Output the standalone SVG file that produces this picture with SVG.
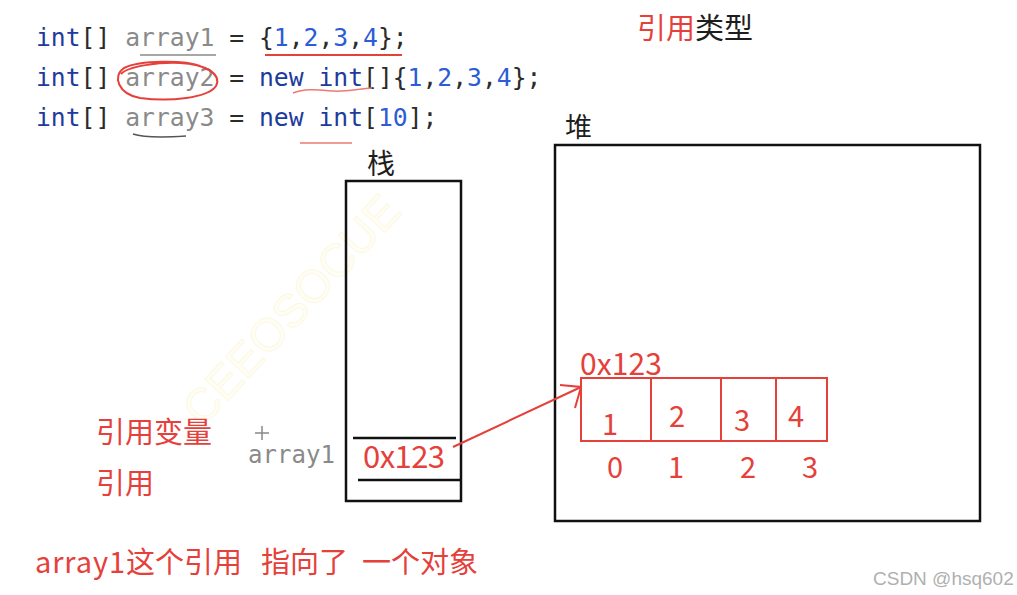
<svg xmlns="http://www.w3.org/2000/svg" width="1017" height="595" viewBox="0 0 1017 595">
<style>
text{white-space:pre}
.code{font-family:"DejaVu Sans Mono","Liberation Mono",monospace;font-size:24.7px}
.kw{fill:#1d3b9c}
.v{fill:#8a8a8a}
.p{fill:#2b2b2b}
.n{fill:#2c5cd6}
.cn{font-family:"Noto Sans CJK SC",sans-serif}
.red{fill:#e5403a}
.blk{fill:#1e1e1e}
.box{fill:none;stroke:#111;stroke-width:2.5}
.rbox{fill:none;stroke:#e5403a;stroke-width:2}
.rl{stroke:#e5403a;fill:none;stroke-width:2}
</style>
<rect width="1017" height="595" fill="#ffffff"/>
<!-- watermark -->
<text x="292" y="325" transform="rotate(-47 292 310)" text-anchor="middle" font-family="Liberation Sans,sans-serif" font-size="46" fill="#fffef6" stroke="#fcf8dc" stroke-width="0.8">CEEOSOCUE</text>

<g id="code">
<text class="code" x="36" y="46"><tspan class="kw">int</tspan><tspan class="p">[] </tspan><tspan class="v">array1</tspan><tspan class="p"> = {</tspan><tspan class="n">1</tspan><tspan class="p">,</tspan><tspan class="n">2</tspan><tspan class="p">,</tspan><tspan class="n">3</tspan><tspan class="p">,</tspan><tspan class="n">4</tspan><tspan class="p">};</tspan></text>
<text class="code" x="36" y="86"><tspan class="kw">int</tspan><tspan class="p">[] </tspan><tspan class="v">array2</tspan><tspan class="p"> = </tspan><tspan class="kw">new int</tspan><tspan class="p">[]{</tspan><tspan class="n">1</tspan><tspan class="p">,</tspan><tspan class="n">2</tspan><tspan class="p">,</tspan><tspan class="n">3</tspan><tspan class="p">,</tspan><tspan class="n">4</tspan><tspan class="p">};</tspan></text>
<text class="code" x="36" y="126"><tspan class="kw">int</tspan><tspan class="p">[] </tspan><tspan class="v">array3</tspan><tspan class="p"> = </tspan><tspan class="kw">new int</tspan><tspan class="p">[</tspan><tspan class="n">10</tspan><tspan class="p">];</tspan></text>
<!-- annotations -->
<line x1="140" y1="55" x2="216" y2="55" stroke="#8a8a8a" stroke-width="1.5"/>
<line x1="265" y1="55" x2="402" y2="55" class="rl"/>
<path d="M200,66 C185,60 140,60 124,68 C112,76 118,94 140,98 C170,102 208,98 216,86 C222,74 205,64 180,63 C160,62 128,66 121,74" class="rl" stroke-width="1.6"/>
<path d="M293,93 C305,88 320,90 333,91 C345,92 358,89 372,88" stroke="#ee7a72" stroke-width="1.5" fill="none"/>
<path d="M133,134 C145,138 170,137 186,136" stroke="#555" stroke-width="1.5" fill="none"/>
<line x1="300" y1="143" x2="352" y2="143" stroke="#ee7a72" stroke-width="1.5"/>
</g>

<g id="title">
<text class="cn" x="637" y="39" font-size="29"><tspan class="red">引用</tspan><tspan class="blk">类型</tspan></text>
</g>

<g id="stack">
<text class="cn blk" x="367" y="174" font-size="28">栈</text>
<rect x="346" y="181" width="115" height="320" class="box"/>
<line x1="353" y1="438" x2="456" y2="438" stroke="#111" stroke-width="2.5"/>
<line x1="358" y1="480" x2="460" y2="480" stroke="#111" stroke-width="2.5"/>
<text class="cn red" x="363" y="468" font-size="31" textLength="82">0x123</text>
</g>

<g id="heap">
<text class="cn blk" x="565" y="137" font-size="27">堆</text>
<rect x="555" y="145" width="425" height="376" class="box"/>
</g>

<g id="array">
<text class="cn red" x="580" y="375" font-size="30" textLength="82">0x123</text>
<rect x="581" y="378" width="246" height="63" class="rbox"/>
<line x1="651" y1="378" x2="651" y2="441" class="rl"/>
<line x1="721" y1="378" x2="721" y2="441" class="rl"/>
<line x1="776" y1="378" x2="776" y2="441" class="rl"/>
<g class="cn red" font-size="29">
<text x="602" y="435">1</text>
<text x="669" y="427">2</text>
<text x="734" y="431">3</text>
<text x="788" y="427">4</text>
<text x="607" y="478">0</text>
<text x="668" y="478">1</text>
<text x="740" y="478">2</text>
<text x="802" y="478">3</text>
</g>
</g>

<g id="labels">
<text class="cn red" x="96" y="443" font-size="29">引用变量</text>
<text class="cn red" x="96" y="494" font-size="29">引用</text>
<text x="248" y="463" font-family="DejaVu Sans Mono,monospace" font-size="24" fill="#8a8a8a" textLength="87">array1</text>
<path d="M262,426 V440 M255,433 H269" stroke="#888" stroke-width="1.5"/>
<text class="cn red" x="35" y="573" font-size="29"><tspan textLength="90">array1</tspan><tspan>这个引用</tspan></text>
<text class="cn red" x="261" y="573" font-size="29">指向了</text>
<text class="cn red" x="362" y="573" font-size="29">一个对象</text>
<text x="873" y="585" font-family="Liberation Sans,sans-serif" font-size="19" fill="#b0b0b0">CSDN @hsq602</text>
</g>

<g id="connectors">
<line x1="453" y1="447" x2="581" y2="387" class="rl"/>
<path d="M560,385 L581,387 L575,408" class="rl"/>
</g>
</svg>
